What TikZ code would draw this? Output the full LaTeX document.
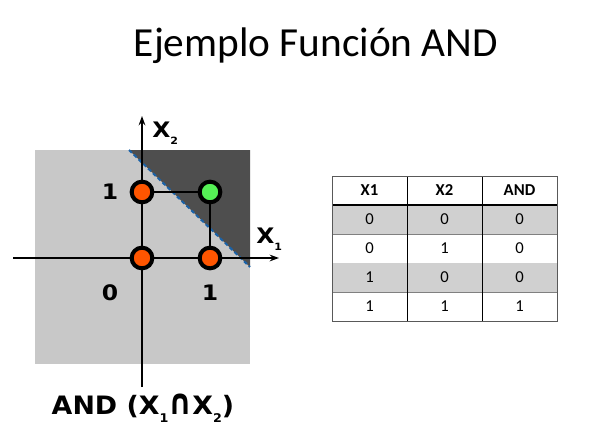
\documentclass[tikz,border=0pt]{standalone}
\usepackage{fontspec}
\setmainfont{Carlito}
\newfontfamily\plotfont{DejaVu Sans}
\usepackage{xcolor}
\usepackage{tikz}
\usetikzlibrary{arrows.meta,positioning}

\definecolor{lightgrey}{HTML}{C8C8C8}
\definecolor{darkgrey}{HTML}{4E4E4E}
\definecolor{sepblue}{HTML}{1A62A8}
\definecolor{falsept}{HTML}{FF5500}
\definecolor{truept}{HTML}{55F055}
\definecolor{rowgrey}{HTML}{D0D0D0}

% wide bold label text, as in the slide
\newcommand{\widetext}[2][1.1]{\scalebox{#1}[1]{#2}}
\newcommand{\lowsub}[2]{\raisebox{-0.6ex}{\fontsize{#1}{#1}\selectfont #2}}

\tikzset{
  axis/.style={line width=1.9pt,-{Stealth[length=7pt,width=5pt]}},
  link/.style={line width=1.5pt},
  dot/.style={circle,draw=black,line width=3pt,minimum size=15.5pt,inner sep=0pt},
  lbl/.style={font=\plotfont\bfseries\fontsize{16}{16}\selectfont},
  cell/.style={font=\fontsize{12.5}{12.5}\selectfont},
  hcell/.style={font=\bfseries\fontsize{12.5}{12.5}\selectfont}
}

\begin{document}
\begin{tikzpicture}[x=0.75pt,y=-0.75pt]
\useasboundingbox (0,0) rectangle (592,436);
\node (title) at (316,46) {\fontsize{31}{31}\selectfont Ejemplo Función AND};
% plane of inputs
\fill[lightgrey] (35,150) rectangle (250,364);
\fill[darkgrey] (129,150) -- (250,150) -- (250,267) -- cycle;
\coordinate (sepa) at (129,150);
\coordinate (sepb) at (250,267);
\draw[sepblue,line width=1.5pt,dash pattern=on 3pt off 2pt] (sepa) -- (sepb);
\coordinate (xa) at (13,258);
\coordinate (xb) at (279,258);
\coordinate (ya) at (142,387);
\coordinate (yb) at (142,116);
\draw[axis] (xa) -- (xb);
\draw[axis] (ya) -- (yb);
\node[dot,fill=falsept] (p00) at (142,258) {};
\node[dot,fill=falsept] (p10) at (210,258) {};
\node[dot,fill=falsept] (p01) at (142,192) {};
\node[dot,fill=truept] (p11) at (210,192) {};
\draw[link] (p01) -- (p11) -- (p10);
\node[lbl,anchor=west,inner sep=0pt] (xtwo) at (152,133) {\widetext{X\lowsub{7.5}{2}}};
\node[lbl,anchor=west,inner sep=0pt] (xone) at (256,239) {\widetext{X\lowsub{7.5}{1}}};
\node[lbl] (one2) at (110,192) {\widetext{1}};
\node[lbl] (zero) at (110,293) {\widetext{0}};
\node[lbl] (one1) at (210,293) {\widetext{1}};
\node[font=\plotfont\bfseries\fontsize{19}{19}\selectfont] (caption) at (143,408)
  {\widetext[1.06]{AND (X\lowsub{9}{1}\scalebox{1.1}[1.4]{∩}X\lowsub{9}{2})}};
% truth table
\foreach \a/\b/\c [count=\r] in {0/0/0,0/1/0,1/0/0,1/1/1} {
  \ifodd\r
    \fill[rowgrey] (332,{205+29*(\r-1)}) rectangle (557,{205+29*\r});
  \fi
  \node[cell] (c\r a) at (369.5,{190.5+29*\r}) {\a};
  \node[cell] (c\r b) at (444.5,{190.5+29*\r}) {\b};
  \node[cell] (c\r c) at (519.5,{190.5+29*\r}) {\c};
  \draw[gray,line width=0.6pt] (332,{205+29*\r}) -- (557,{205+29*\r});
}
\node[hcell] (hx1) at (369.5,190.5) {X1};
\node[hcell] (hx2) at (444.5,190.5) {X2};
\node[hcell] (hand) at (519.5,190.5) {AND};
\draw[black,line width=0.6pt] (407,176) -- (407,321);
\draw[black,line width=0.6pt] (482,176) -- (482,321);
\draw[black,line width=1.4pt] (332,205) -- (557,205);
\draw[gray!70!black,line width=0.7pt] (332,176) rectangle (557,321);
\end{tikzpicture}
\end{document}
